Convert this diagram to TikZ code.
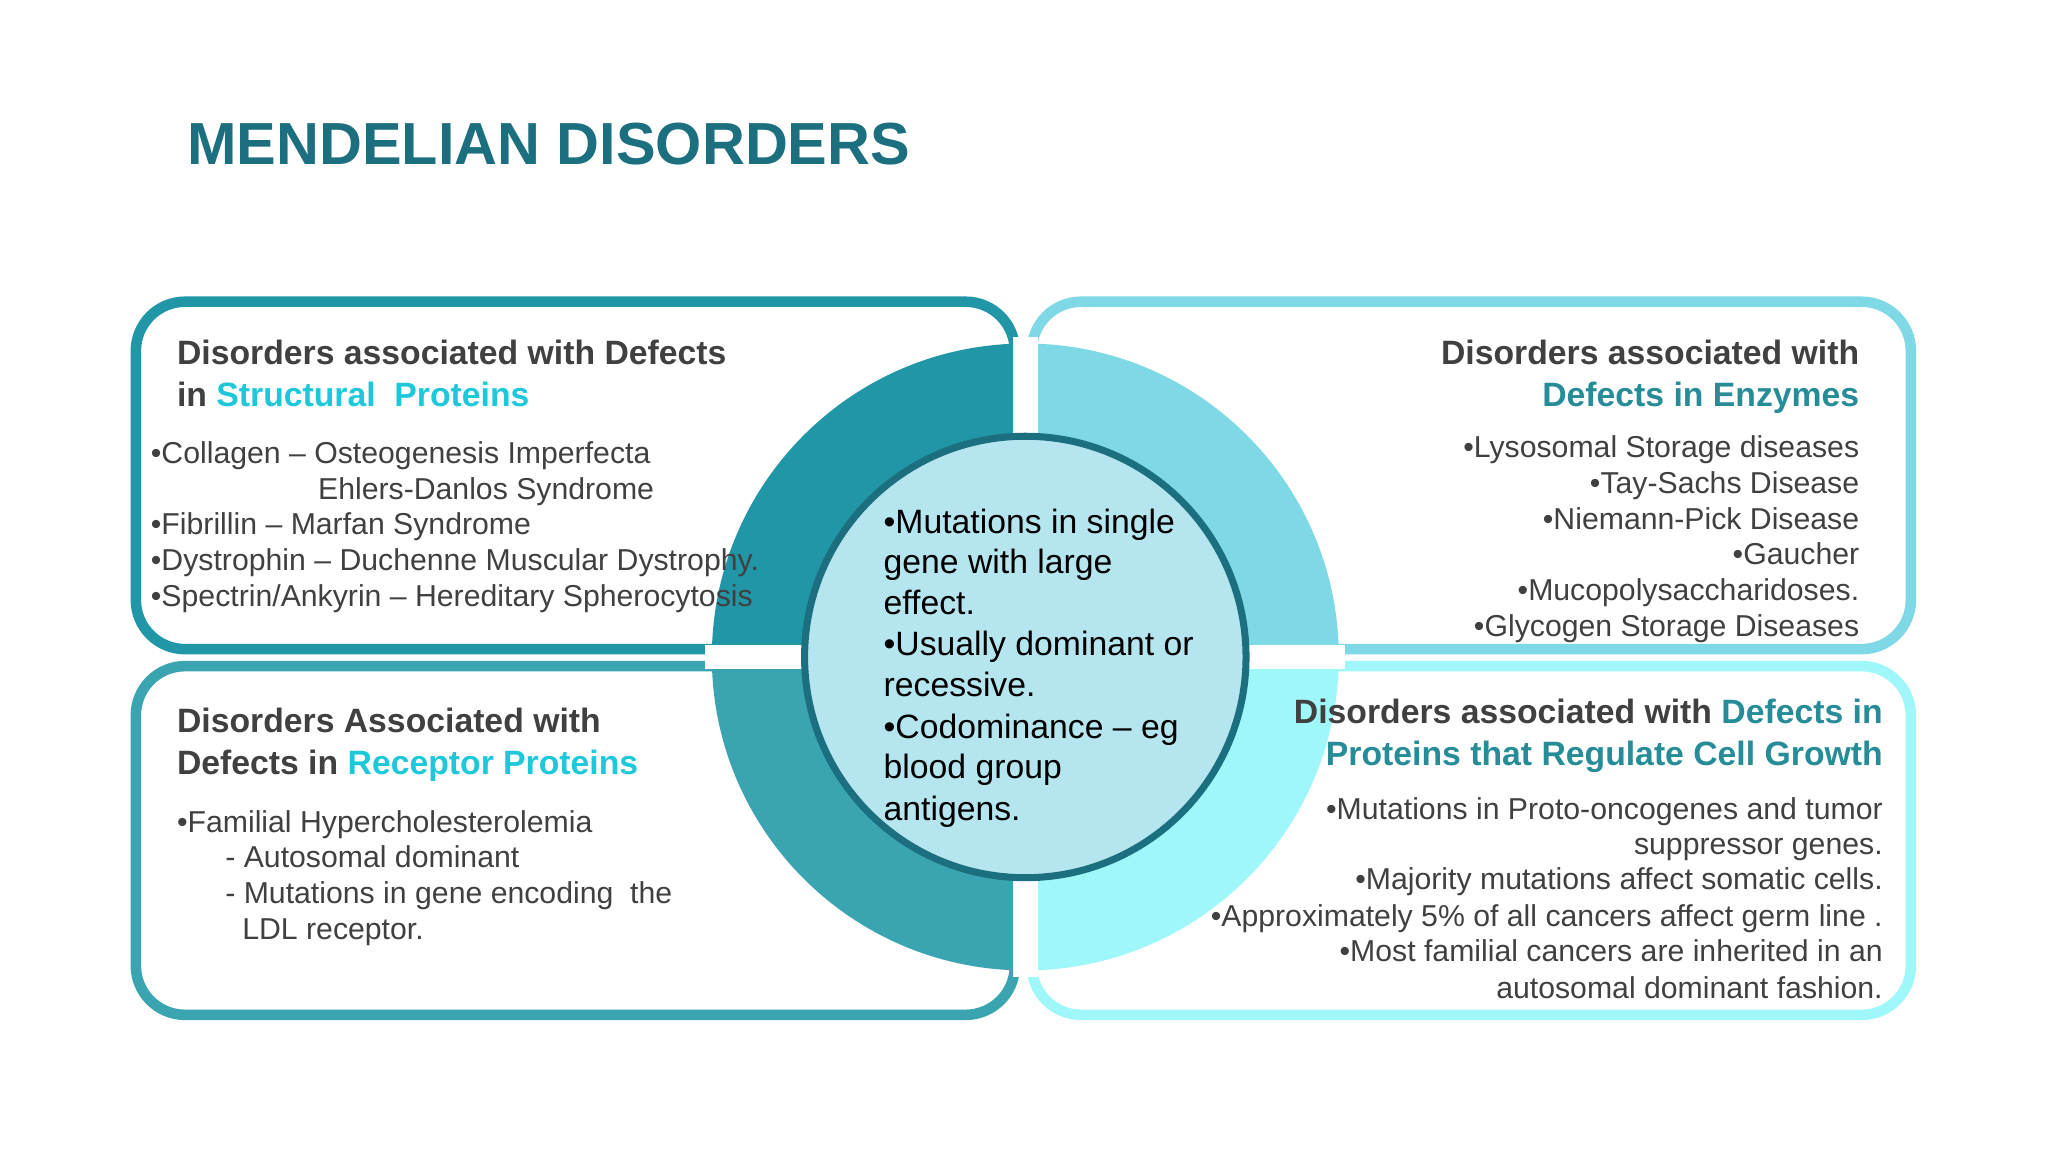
\documentclass[tikz,border=0pt]{standalone}
\usepackage{fontspec}
\setmainfont{Liberation Sans}
\definecolor{ttl}{HTML}{1B6F7E}
\definecolor{qa}{HTML}{2196A6}
\definecolor{qb}{HTML}{7ED8E6}
\definecolor{qc}{HTML}{3AA5B0}
\definecolor{qd}{HTML}{A0F7FA}
\definecolor{inner}{HTML}{B5E6EF}
\definecolor{txt}{HTML}{404040}
\definecolor{cyanh}{HTML}{1CC8DA}
\definecolor{tealh}{HTML}{268C98}
\tikzset{
 bx/.style={line width=3pt,rounded corners=14pt,fill=white},
 bl/.style={inner sep=0pt,anchor=mid west,text=txt,font=\fontsize{8.6}{10}\selectfont},
 br/.style={inner sep=0pt,anchor=mid east,text=txt,font=\fontsize{8.6}{10}\selectfont},
 hl/.style={inner sep=0pt,anchor=mid west,text=txt,font=\fontsize{9.6}{11}\selectfont\bfseries},
 hr/.style={inner sep=0pt,anchor=mid east,text=txt,font=\fontsize{9.6}{11}\selectfont\bfseries},
 ct/.style={inner sep=0pt,anchor=mid west,text=black,font=\fontsize{9.6}{11}\selectfont},
}
\begin{document}
\begin{tikzpicture}[x=0.01306cm,y=-0.01306cm]
\useasboundingbox[fill=white] (0,0) rectangle (1568,882);
\node[inner sep=0pt,anchor=mid west,text=ttl,font=\fontsize{16.9}{20}\selectfont\bfseries] (title) at (143,119) {MENDELIAN DISORDERS};
% boxes
\draw[bx,draw=qa] (104,231) rectangle (777,497);
\draw[bx,draw=qb] (790,231) rectangle (1463,497);
\draw[bx,draw=qc] (104,510) rectangle (777,777);
\draw[bx,draw=qd] (790,510) rectangle (1463,777);
% ring quadrants
\coordinate (c) at (785,503);
\begin{scope}[shift={(785,503)},y=0.01306cm]
\fill[qa] (0,0) -- (180:240) arc[start angle=180,end angle=90,radius=240] -- cycle;
\fill[qb] (0,0) -- (90:240) arc[start angle=90,end angle=0,radius=240] -- cycle;
\fill[qc] (0,0) -- (180:240) arc[start angle=180,end angle=270,radius=240] -- cycle;
\fill[qd] (0,0) -- (270:240) arc[start angle=270,end angle=360,radius=240] -- cycle;
\end{scope}
\draw[white,line width=7pt] (785,258) -- (785,748);
\draw[white,line width=7pt] (540,503) -- (1030,503);
\node[circle,minimum size=2*169*0.01306cm,fill=inner,draw=ttl,line width=2pt] (mid) at (c) {};
% TL
\node[hl] (a1) at (135,272) {Disorders associated with Defects};
\node[hl] (a2) at (135,304) {in \textcolor{cyanh}{Structural\ \ Proteins}};
\node[bl] (a3) at (115,348) {•Collagen – Osteogenesis Imperfecta};
\node[bl] (a4) at (243,375) {Ehlers-Danlos Syndrome};
\node[bl] (a5) at (115,402) {•Fibrillin – Marfan Syndrome};
\node[bl] (a6) at (115,430) {•Dystrophin – Duchenne Muscular Dystrophy.};
\node[bl] (a7) at (115,457) {•Spectrin/Ankyrin – Hereditary Spherocytosis};
% TR
\node[hr] (b1) at (1424,272) {Disorders associated with};
\node[hr,text=tealh] (b2) at (1424,304) {Defects in Enzymes};
\node[br] (b3) at (1424,343) {•Lysosomal Storage diseases};
\node[br] (b4) at (1424,371) {•Tay-Sachs Disease};
\node[br] (b5) at (1424,398) {•Niemann-Pick Disease};
\node[br] (b6) at (1424,425) {•Gaucher};
\node[br] (b7) at (1424,453) {•Mucopolysaccharidoses.};
\node[br] (b8) at (1424,480) {•Glycogen Storage Diseases};
% BL
\node[hl] (c1) at (135,554) {Disorders Associated with};
\node[hl] (c2) at (135,586) {Defects in \textcolor{cyanh}{Receptor Proteins}};
\node[bl] (c3) at (135,630) {•Familial Hypercholesterolemia};
\node[bl] (c4) at (172,657) {- Autosomal dominant};
\node[bl] (c5) at (172,685) {- Mutations in gene encoding\ \ the};
\node[bl] (c6) at (185,712) {LDL receptor.};
% BR
\node[hr] (d1) at (1442,547) {Disorders associated with \textcolor{tealh}{Defects in}};
\node[hr,text=tealh] (d2) at (1442,579) {Proteins that Regulate Cell Growth};
\node[br] (d3) at (1442,620) {•Mutations in Proto-oncogenes and tumor};
\node[br] (d4) at (1442,647) {suppressor genes.};
\node[br] (d5) at (1442,674) {•Majority mutations affect somatic cells.};
\node[br] (d6) at (1442,702) {•Approximately 5\% of all cancers affect germ line .};
\node[br] (d7) at (1442,729) {•Most familial cancers are inherited in an};
\node[br] (d8) at (1442,757) {autosomal dominant fashion.};
% centre
\node[ct] (e1) at (676,401) {•Mutations in single};
\node[ct] (e2) at (676,432) {gene with large};
\node[ct] (e3) at (676,463) {effect.};
\node[ct] (e4) at (676,495) {•Usually dominant or};
\node[ct] (e5) at (676,526) {recessive.};
\node[ct] (e6) at (676,558) {•Codominance – eg};
\node[ct] (e7) at (676,589) {blood group};
\node[ct] (e8) at (676,621) {antigens.};
\end{tikzpicture}
\end{document}
